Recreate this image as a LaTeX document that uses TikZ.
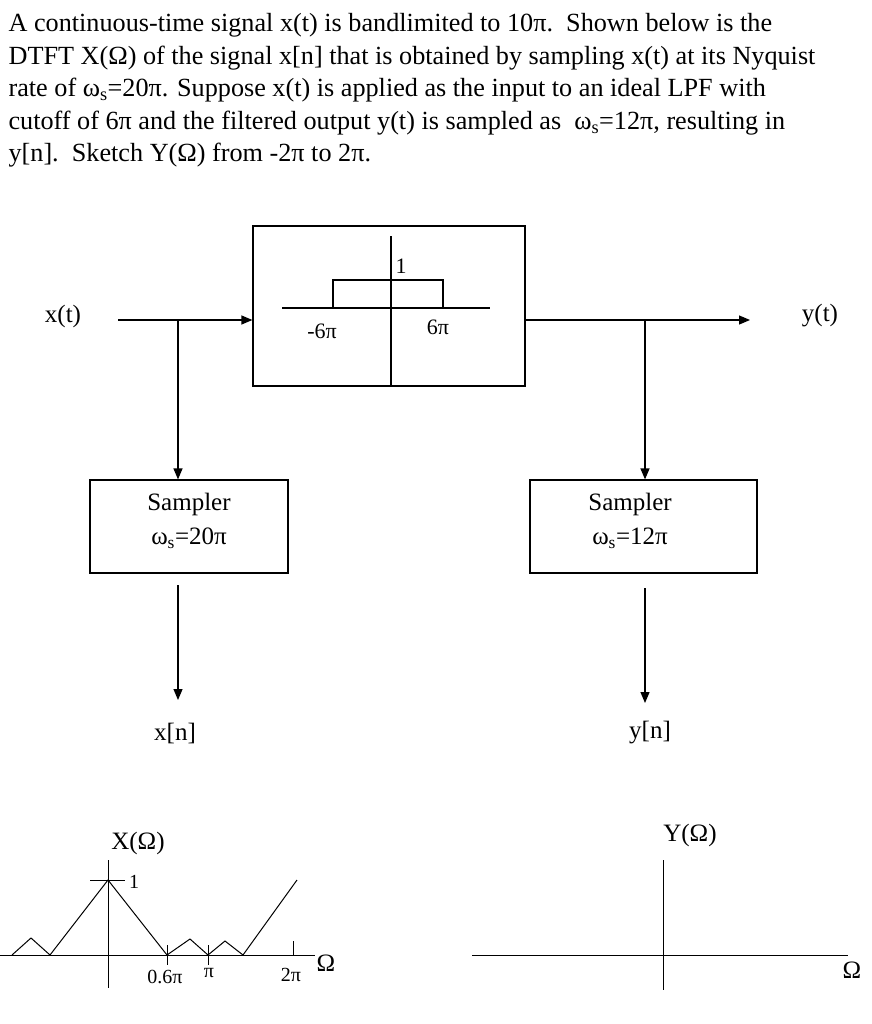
\documentclass[tikz,border=0pt]{standalone}
\usepackage{fontspec}
\setmainfont{Liberation Serif}
\usetikzlibrary{arrows.meta}
\begin{document}
\begin{tikzpicture}[x=1pt,y=-1pt,line width=1.2pt,
  t/.style={font=\fontsize{26.2}{30}\selectfont,inner sep=0pt},
  s/.style={font=\fontsize{25}{29}\selectfont,inner sep=0pt},
  m/.style={font=\fontsize{22}{26}\selectfont,inner sep=0pt},
  arr/.style={-{Triangle[length=11pt,width=9pt]}},
  box/.style={draw,line width=1.2pt}]
\useasboundingbox (0,0) rectangle (871,1024);
\node[t,anchor=west] (l1) at (8,25) {A continuous-time signal x(t) is bandlimited to 10π.\ \ Shown below is the};
\node[t,anchor=west] (l2) at (8,58) {DTFT X(Ω) of the signal x[n] that is obtained by sampling x(t) at its Nyquist};
\node[t,anchor=west] (l3) at (8,90) {rate of ω\textsubscript{s}=20π. Suppose x(t) is applied as the input to an ideal LPF with};
\node[t,anchor=west] (l4) at (8,123) {cutoff of 6π and the filtered output y(t) is sampled as\ \ ω\textsubscript{s}=12π, resulting in};
\node[t,anchor=west] (l5) at (8,155) {y[n].\ \ Sketch Y(Ω) from -2π to 2π.};
% filter box
\node[box,minimum width=272pt,minimum height=160pt,inner sep=0pt] (F) at (389,306) {};
\draw (391,236) -- (391,386);
\draw (282,308) -- (490,308);
\draw (333,308) -- (333,280) -- (443,280) -- (443,308);
\node[m] (one) at (401,266) {1};
\node[m] (m6) at (322,331) {-6π};
\node[m] (p6) at (438,327) {6π};
% input/output
\node[s] (xt) at (63,316) {x(t)};
\node[s] (yt) at (820,316) {y(t)};
\coordinate (in) at (118,320);
\coordinate (b1) at (178,320);
\draw[arr] (in) -- (F.west|-in);
\coordinate (o0) at (F.east|-in);
\coordinate (b2) at (645,320);
\coordinate (out) at (750,320);
\draw[arr] (o0) -- (out);
\node[box,minimum width=198pt,minimum height=93pt] (S1) at (189,526.5) {};
\node[box,minimum width=227pt,minimum height=93pt] (S2) at (643.5,526.5) {};
\node[s] (s1a) at (189,504) {Sampler};
\node[s] (s1b) at (189,538) {ω\textsubscript{s}=20π};
\node[s] (s2a) at (630,504) {Sampler};
\node[s] (s2b) at (630,538) {ω\textsubscript{s}=12π};
\draw[arr] (b1) -- (b1|-S1.north);
\draw[arr] (b2) -- (b2|-S2.north);
\coordinate (a1) at (178,585);
\coordinate (a2) at (645,588);
\draw[arr] (a1) -- (178,700);
\draw[arr] (a2) -- (645,703);
\node[s] (xn) at (175,733) {x[n]};
\node[s] (yn) at (650,733) {y[n]};
% X plot
\begin{scope}[line width=1pt]
\draw (0,955) -- (315,955);
\draw (108,860) -- (108,988);
\draw (90,880) -- (125,880);
\draw (12,955) -- (31,938) -- (50,955) -- (108,880) -- (167,955) -- (190,939) -- (208,955) -- (225,941) -- (243,955) -- (297,880);
\draw (167,945) -- (167,965);
\draw (208,945) -- (208,965);
\draw (293,941) -- (293,955);
\end{scope}
\node[s] (X) at (138,843) {X(Ω)};
\node[m,font=\fontsize{20}{24}\selectfont] (x1) at (134,882) {1};
\node[m,font=\fontsize{20}{24}\selectfont] (x06) at (165,977) {0.6π};
\node[m,font=\fontsize{20}{24}\selectfont] (xpi) at (209,973) {π};
\node[m,font=\fontsize{20}{24}\selectfont] (x2p) at (291,975) {2π};
\node[s] (xo) at (326,963) {Ω};
% Y plot
\draw[line width=1pt] (472,955) -- (848,955);
\draw[line width=1pt] (663,860) -- (663,990);
\node[s] (Y) at (690,835) {Y(Ω)};
\node[s] (yo) at (852,970) {Ω};
\end{tikzpicture}
\end{document}
